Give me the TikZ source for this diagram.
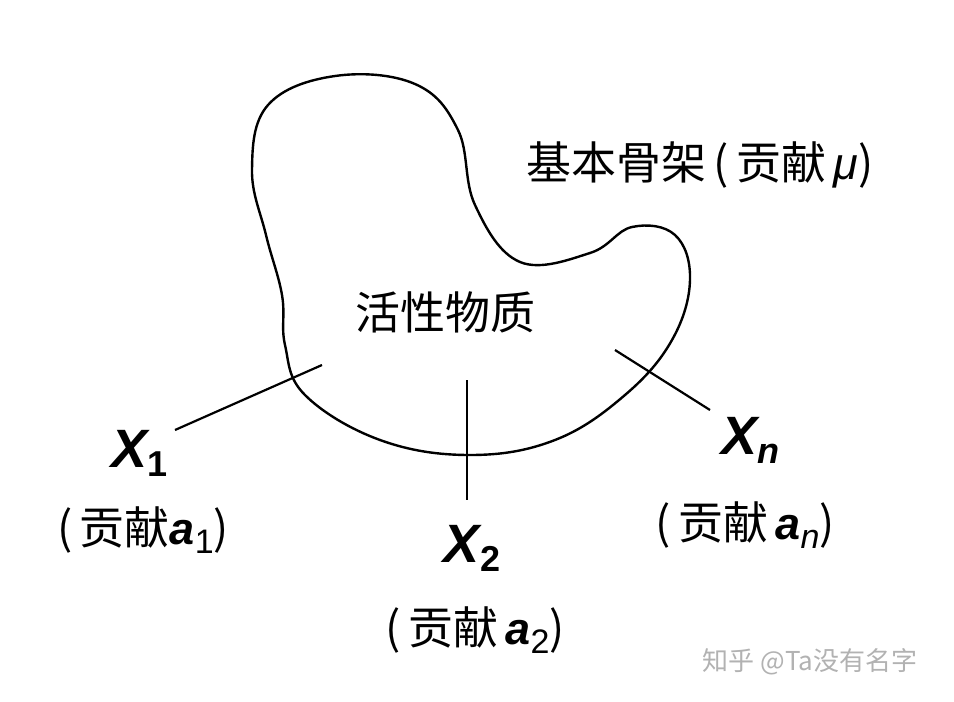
\documentclass[tikz,border=0pt]{standalone}
\usepackage{fontspec}
\newfontfamily\cjk{Noto Sans CJK SC}
\newfontfamily\lat{Liberation Sans}
\begin{document}
\begin{tikzpicture}[x=1pt,y=-1pt,
  lbl/.style={inner sep=0pt,font=\cjk\fontsize{45}{48}\selectfont},
  xl/.style={inner sep=0pt,font=\lat\bfseries\itshape\fontsize{54}{58}\selectfont},
  ln/.style={line width=2.2pt}]
\useasboundingbox[fill=white] (0,0) rectangle (954,702);
\draw[line width=2.4pt] plot[smooth cycle,tension=0.65] coordinates{(335,76) (415,84) (458,130) (475,205) (520,262) (590,253) (632,227) (675,235) (690,280) (672,340) (625,395) (555,440) (470,455) (380,440) (305,395) (285,345) (282,295) (266,235) (252,170) (268,105)};
\node[lbl] (jb) at (700,165) {基本骨架\,(\,贡献\,{\lat\itshape μ})};
\node[lbl] (hx) at (445,312) {活性物质};
\coordinate (a1) at (322,365); \coordinate (b1) at (175,430);
\coordinate (a2) at (467,380); \coordinate (b2) at (467,500);
\coordinate (a3) at (615,350); \coordinate (b3) at (710,410);
\draw[ln] (a1) -- (b1); \draw[ln] (a2) -- (b2); \draw[ln] (a3) -- (b3);
\node[xl] (x1) at (140,453) {X{\fontsize{36}{38}\selectfont\upshape\raisebox{-9pt}{1}}};
\node[xl] (x2) at (472,548) {X{\fontsize{36}{38}\selectfont\upshape\raisebox{-9pt}{2}}};
\node[xl] (xn) at (750,440) {X{\fontsize{36}{38}\selectfont\raisebox{-9pt}{n}}};
\node[lbl] (c1) at (143,530) {(\,贡献{\lat\bfseries\itshape a}{\lat\fontsize{34}{36}\selectfont\raisebox{-9pt}{1}})};
\node[lbl] (c2) at (475,630) {(\,贡献\,{\lat\bfseries\itshape a}{\lat\fontsize{34}{36}\selectfont\raisebox{-9pt}{2}})};
\node[lbl] (cn) at (745,525) {(\,贡献\,{\lat\bfseries\itshape a}{\lat\itshape\fontsize{34}{36}\selectfont\raisebox{-9pt}{n}})};
\node[inner sep=0pt,text=gray!60,font=\cjk\fontsize{26}{28}\selectfont] (wm) at (810,662) {知乎 @Ta没有名字};
\end{tikzpicture}
\end{document}
